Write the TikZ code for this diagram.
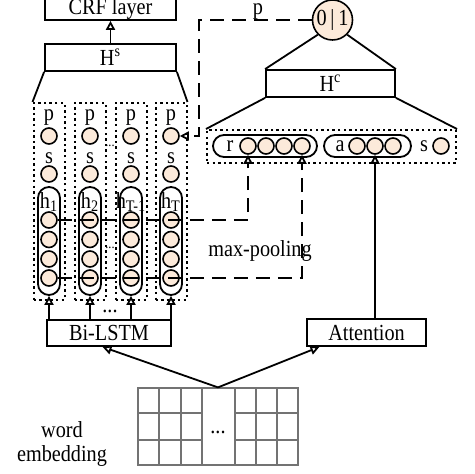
\documentclass[tikz,border=0pt]{standalone}
\usepackage{fontspec}
\setmainfont{Liberation Serif}[FakeStretch=0.88]
\usetikzlibrary{arrows.meta}
\definecolor{peach}{RGB}{252,234,218}
\definecolor{gridgray}{RGB}{115,115,115}

\begin{document}
\begin{tikzpicture}[x=0.5pt, y=-0.5pt,
  every node/.style={font=\fontsize{11.5}{12}\selectfont},
  box/.style={rectangle, draw, line width=0.9pt, inner sep=0pt},
  dotbox/.style={rectangle, draw, line width=1pt, dash pattern=on 1.2pt off 1.6pt, inner sep=0pt},
  pill/.style={rectangle, draw, rounded corners=5.5pt, line width=0.9pt, inner sep=0pt, minimum width=11pt},
  cell/.style={circle, draw, fill=peach, line width=0.8pt, minimum size=8pt, inner sep=0pt},
  dline/.style={line width=0.9pt, dash pattern=on 7pt off 4pt},
  arr/.style={line width=0.9pt, -{Triangle[open, length=4.5pt, width=4.5pt]}}]
  \useasboundingbox (0,0) rectangle (474,474);

  % Sentence side: one column per word
  \foreach \i/\x/\h in {1/49/1, 2/90/2, 3/131/{T-1}, 4/171/T} {
    \node (col\i) [dotbox, minimum width=15.5pt, minimum height=98.5pt] at (\x,201.5) {};
    \node (pl\i) at (\x,118) {p};
    \node (p\i) [cell] at (\x,136) {};
    \node (sl\i) at (\x,158) {s};
    \node (s\i) [cell] at (\x,174) {};
    \node (hp\i) [pill, minimum height=54pt] at (\x,241) {};
    \node (hl\i) at (\x,202) {h\textsubscript{\h}};
    \foreach \j/\y in {a/220, b/239.5, c/259, d/278}
      \node (c\i\j) [cell] at (\x,\y) {};
  }
  \node (dt1) [font=\fontsize{7}{8}\selectfont] at (110,146) {...};
  \node (dt2) [font=\fontsize{7}{8}\selectfont] at (110,248) {...};
  \node (dt3) at (110,311) {...};

  \node (Hs) [box, minimum width=65.5pt, minimum height=13.5pt] at (110.5,57.5) {H\textsuperscript{s}};
  \node (crf) [box, minimum width=65.5pt] at (110.5,9.5) {CRF layer};
  \draw[arr] (Hs) -- (crf);
  \draw[line width=0.9pt] (Hs.south west) -- (col1.north west) (Hs.south east) -- (col4.north east);

  % Context side
  \node (out) [cell, minimum size=20pt] at (332.5,20) {0\,|\,1};
  \node (Hc) [box, minimum width=64.5pt, minimum height=13.5pt] at (330.5,83.5) {H\textsuperscript{c}};
  \node (ctx) [dotbox, minimum width=124.5pt, minimum height=16.5pt] at (331.5,146.5) {};
  \node (rg) [pill, minimum width=52pt, minimum height=11pt] at (265,146) {};
  \node (rl) at (230,146) {r};
  \foreach \j/\x in {1/248, 2/266, 3/284, 4/302}
    \node (r\j) [cell] at (\x,146) {};
  \node (ag) [pill, minimum width=43.5pt, minimum height=11pt] at (367.5,146) {};
  \node (al) at (340,146) {a};
  \foreach \j/\x in {1/357, 2/375, 3/393}
    \node (a\j) [cell] at (\x,146) {};
  \node (cs) at (424,146) {s};
  \node (s0) [cell] at (441,146) {};
  \draw[line width=0.9pt] (out.south west) -- (Hc.north west) (out.south east) -- (Hc.north east);
  \draw[line width=0.9pt] (Hc.south west) -- (ctx.north west) (Hc.south east) -- (ctx.north east);
  \draw[line width=0.9pt] (out.north) -- ++(0,-14);

  % Encoders
  \node (bil) [box, minimum width=62pt, minimum height=13pt] at (109,333) {Bi-LSTM};
  \node (att) [box, minimum width=59.5pt, minimum height=13.5pt] at (366.5,332.5) {Attention};
  \foreach \i in {1,...,4}
    \draw[arr] (bil.north -| hp\i) -- (hp\i);
  \draw[arr] (att.north -| a2) -- (a2);

  % max-pooling and p feedback
  \draw[dline, arr] (c1a.east) -| (r1);
  \draw[dline, arr] (c1d.east) -| (r4);
  \node (mp) at (260,251) {max-pooling};
  \coordinate (pk) at (199,20);
  \draw[dline, arr] (out.west) -- (pk) |- (p4);
  \node (plab) at (258,12) {p};

  % Word embedding
  \node (emb) [rectangle, draw=gridgray, line width=0.6pt, minimum width=80pt, minimum height=38.5pt, inner sep=0pt] at (218,426.5) {};
  \foreach \x in {159,181,202,235,256,277}
    \draw[gridgray, line width=0.6pt] (\x,388) -- (\x,465);
  \foreach \y in {413,440}
    \draw[gridgray, line width=0.6pt] (138,\y) -- (202,\y) (235,\y) -- (298,\y);
  \node (edots) at (218,432) {...};
  \draw[arr] (emb.north) -- (bil.245);
  \draw[arr] (emb.north) -- (att.197);
  \node (wlab) [align=center] at (62,444) {word\\embedding};
\end{tikzpicture}
\end{document}
